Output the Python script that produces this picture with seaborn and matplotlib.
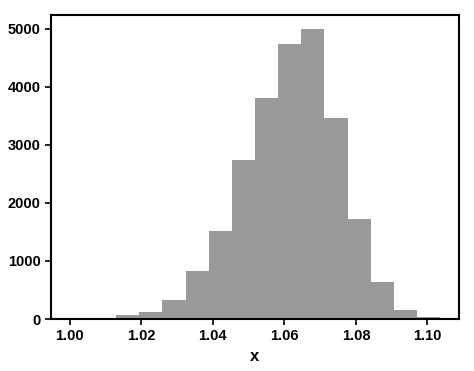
import numpy as np
import pandas as pd
import matplotlib
matplotlib.use("Agg")
import matplotlib.pyplot as plt
import seaborn as sns

# Histogram data
bin_start = 1.0
bin_end = 1.1036
n_bins = 16
counts = [2, 3, 74, 115, 327, 826, 1515, 2737, 3804, 4733, 4986, 3454, 1721, 637, 155, 30]
x_label = "x"
x_ticks = [1.00, 1.02, 1.04, 1.06, 1.08, 1.10]
y_ticks = [0, 1000, 2000, 3000, 4000, 5000]

edges = np.linspace(bin_start, bin_end, n_bins + 1)
centers = (edges[:-1] + edges[1:]) / 2
df = pd.DataFrame({"x": centers, "count": counts})

sns.set_style("white")
plt.rcParams['font.family'] = ['Liberation Sans', 'DejaVu Sans']
plt.rcParams['font.weight'] = 'bold'
plt.rcParams['text.color'] = 'black'
plt.rcParams['axes.labelcolor'] = 'black'
plt.rcParams['xtick.color'] = 'black'
plt.rcParams['ytick.color'] = 'black'

fig = plt.figure(figsize=(4.74, 3.71), dpi=100)
ax = fig.add_axes([0.108, 0.140, 0.860, 0.820])
sns.histplot(data=df, x="x", weights="count", bins=n_bins,
             binrange=(bin_start, bin_end), color="#999999",
             alpha=1.0, linewidth=0, ax=ax)

ax.set_xticks(x_ticks)
ax.set_xticklabels([f"{t:.2f}" for t in x_ticks], fontsize=10.5, fontweight='bold', color='black')
ax.set_yticks(y_ticks)
ax.set_yticklabels([str(t) for t in y_ticks], fontsize=10.5, fontweight='bold', color='black')
ax.set_xlabel(x_label, fontsize=12, fontweight='bold', color='black')
ax.set_ylabel("")
ax.set_ylim(0, 5237)
for s in ax.spines.values():
    s.set_color("black")
    s.set_linewidth(1.5)
ax.tick_params(axis='both', direction='out', length=4, width=1.2, color='black', bottom=True, left=True)

fig.savefig("out.png", dpi=100)
